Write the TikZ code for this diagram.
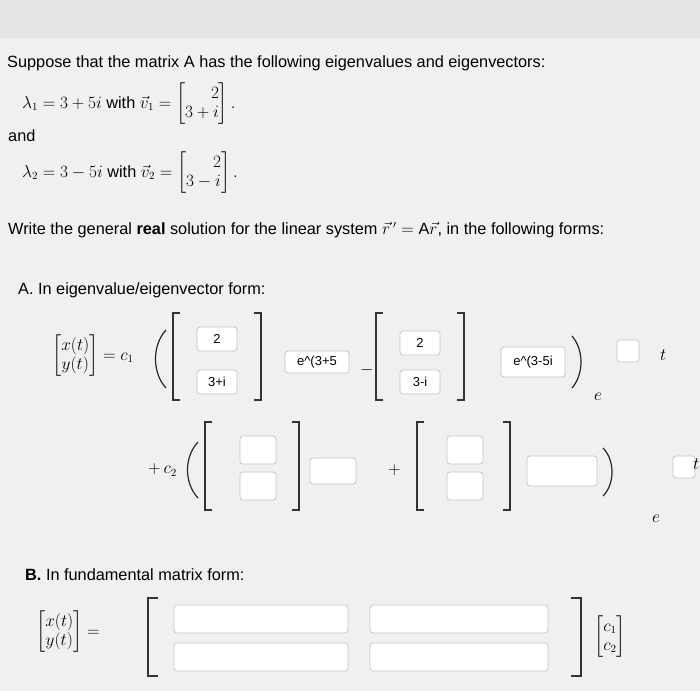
\documentclass[tikz,border=0pt]{standalone}
\usepackage{fontspec}
\setmainfont{Liberation Sans}
\usepackage{amsmath}
\begin{document}
\begin{tikzpicture}[x=1pt,y=-1pt,
  txt/.style={anchor=west,inner sep=0pt,font=\fontsize{16.3}{19}\selectfont},
  ibox/.style={draw=gray!45,fill=white,rounded corners=3pt,line width=0.8pt,inner sep=0pt,font=\fontsize{13}{15}\selectfont},
  brk/.style={line width=1.3pt,black!80},
  par/.style={line width=1.2pt,black!85}]
\useasboundingbox (0,0) rectangle (700,691);
\fill[black!6] (0,0) rectangle (700,691);
\fill[black!10] (0,0) rectangle (700,38);
\node[txt] (t1) at (7,63) {Suppose that the matrix $\mathrm{A}$ has the following eigenvalues and eigenvectors:};
\node[txt] (l1) at (22,104) {$\lambda_1 = 3+5i$ with $\vec v_1 = \begin{bmatrix}\hfill 2\\ 3+i\end{bmatrix}.$};
\node[txt] (and) at (8,136) {and};
\node[txt] (l2) at (22,173) {$\lambda_2 = 3-5i$ with $\vec v_2 = \begin{bmatrix}\hfill 2\\ 3-i\end{bmatrix}.$};
\node[txt] (t2) at (8,230) {Write the general \textbf{real} solution for the linear system $\vec r\,' = \mathrm{A}\vec r$, in the following forms:};
\node[txt] (ta) at (18,290) {A. In eigenvalue/eigenvector form:};
% row 1
\node[txt] (xy1) at (52,356) {$\begin{bmatrix}x(t)\\ y(t)\end{bmatrix} = c_1$};
\coordinate (p1a) at (166,330); \coordinate (p1b) at (166,388);
\draw[par] (p1a) .. controls (152,345) and (152,373) .. (p1b);
\draw[brk] (180,313) -- (173,313) -- (173,400) -- (180,400);
\draw[brk] (254,313) -- (261,313) -- (261,400) -- (254,400);
\node[ibox,minimum width=40pt,minimum height=24pt] (a1) at (217,339) {2};
\node[ibox,minimum width=40pt,minimum height=24pt] (a2) at (217,382) {3+i};
\node[ibox,minimum width=64pt,minimum height=22pt] (e1) at (317,362) {e\^{}(3+5};
\node[txt] (m1) at (360,370) {$-$};
\draw[brk] (383,313) -- (376,313) -- (376,400) -- (383,400);
\draw[brk] (457,313) -- (464,313) -- (464,400) -- (457,400);
\node[ibox,minimum width=40pt,minimum height=24pt] (b1) at (420,343) {2};
\node[ibox,minimum width=40pt,minimum height=24pt] (b2) at (420,382) {3-i};
\node[ibox,minimum width=64pt,minimum height=30pt] (e2) at (533,362) {e\^{}(3-5i};
\coordinate (q1a) at (572,336); \coordinate (q1b) at (572,388);
\draw[par] (q1a) .. controls (584,350) and (584,374) .. (q1b);
\node[txt] (ee1) at (594,397) {$e$};
\node[ibox,minimum width=22pt,minimum height=22pt] (s1) at (628,351) {};
\node[txt] (tt1) at (660,355) {$t$};
% row 2
\node[txt] (c2) at (148,470) {$+\,c_2$};
\coordinate (p2a) at (198,442); \coordinate (p2b) at (198,498);
\draw[par] (p2a) .. controls (184,457) and (184,483) .. (p2b);
\draw[brk] (212,422) -- (205,422) -- (205,510) -- (212,510);
\draw[brk] (292,422) -- (299,422) -- (299,510) -- (292,510);
\node[ibox,minimum width=36pt,minimum height=28pt] (c1a) at (258,450) {};
\node[ibox,minimum width=36pt,minimum height=28pt] (c1b) at (258,486) {};
\node[ibox,minimum width=46pt,minimum height=26pt] (e3) at (333,471) {};
\node[txt] (pl) at (388,470) {$+$};
\draw[brk] (424,422) -- (417,422) -- (417,510) -- (424,510);
\draw[brk] (503,422) -- (510,422) -- (510,510) -- (503,510);
\node[ibox,minimum width=36pt,minimum height=28pt] (d1a) at (465,450) {};
\node[ibox,minimum width=36pt,minimum height=28pt] (d1b) at (465,486) {};
\node[ibox,minimum width=70pt,minimum height=30pt] (e4) at (562,471) {};
\coordinate (q2a) at (603,448); \coordinate (q2b) at (603,496);
\draw[par] (q2a) .. controls (615,460) and (615,484) .. (q2b);
\node[txt] (ee2) at (652,519) {$e$};
\node[ibox,minimum width=22pt,minimum height=22pt] (s2) at (684,467) {};
\node[txt] (tt2) at (693,464) {$t$};
% B
\node[txt] (tb) at (25,575) {\textbf{B.} In fundamental matrix form:};
\node[txt] (xy2) at (36,632) {$\begin{bmatrix}x(t)\\ y(t)\end{bmatrix} =$};
\draw[brk] (158,598) -- (148,598) -- (148,676) -- (158,676);
\draw[brk] (571,598) -- (581,598) -- (581,676) -- (571,676);
\node[ibox,minimum width=174pt,minimum height=28pt] (m11) at (261,619) {};
\node[ibox,minimum width=178pt,minimum height=28pt] (m12) at (459,619) {};
\node[ibox,minimum width=174pt,minimum height=28pt] (m21) at (261,657) {};
\node[ibox,minimum width=178pt,minimum height=28pt] (m22) at (459,657) {};
\node[txt] (cc) at (594,637) {$\begin{bmatrix}c_1\\ c_2\end{bmatrix}$};
\end{tikzpicture}
\end{document}
